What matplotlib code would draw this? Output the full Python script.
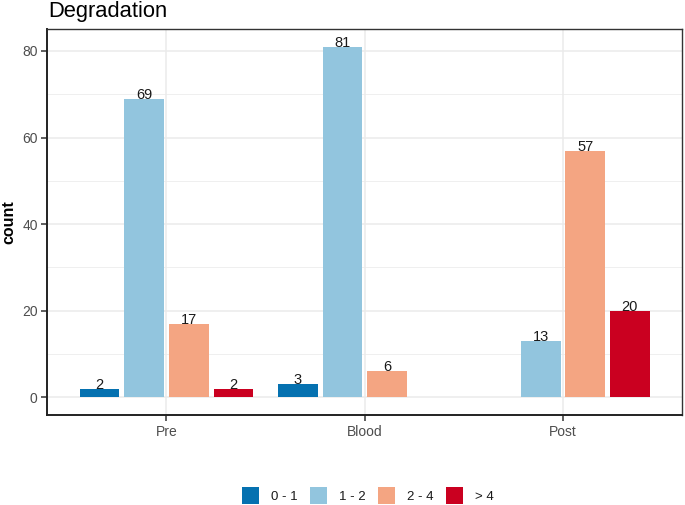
import numpy as np
import matplotlib
matplotlib.use("Agg")
import matplotlib.pyplot as plt
import matplotlib.patches as patches

plt.rcParams['font.family'] = ['Liberation Sans', 'DejaVu Sans']

# data
categories = ["Pre", "Blood", "Post"]
groups = ["0 - 1", "1 - 2", "2 - 4", "> 4"]
colors = ["#0571b0", "#92c5de", "#f4a582", "#ca0020"]
counts = {
    "0 - 1": [2, 3, None],
    "1 - 2": [69, 81, 13],
    "2 - 4": [17, 6, 57],
    "> 4": [2, None, 20],
}

fig = plt.figure(figsize=(6.85, 5.05), dpi=100)
ax = fig.add_axes([0.0693, 0.1782, 0.9956 - 0.0693, 0.9426 - 0.1782])

x = np.arange(1, len(categories) + 1)
slot = 0.9 / len(groups)
bar_w = 0.2
for i, g in enumerate(groups):
    offset = -0.45 + slot * (i + 0.5)
    for j, v in enumerate(counts[g]):
        if v is None:
            continue
        ax.bar(x[j] + offset, v, width=bar_w, color=colors[i], zorder=3)
        ax.text(x[j] + offset, v, str(v), ha='center', va='baseline',
                fontsize=10.5, color='#1a1a1a', zorder=4)

ax.set_xlim(0.4, 3.6)
ax.set_ylim(-4.05, 85.05)
ax.set_xticks(x)
ax.set_xticklabels(categories)
ax.set_yticks([0, 20, 40, 60, 80])
ax.set_yticks([10, 30, 50, 70], minor=True)
ax.grid(which='major', color='#ebebeb', linewidth=1.1, zorder=0)
ax.grid(which='minor', axis='y', color='#ebebeb', linewidth=0.55, zorder=0)
ax.tick_params(axis='both', which='major', labelsize=10, labelcolor='#4d4d4d',
               color='#333333', length=4, width=1.1, pad=3)
ax.tick_params(axis='y', which='minor', length=0)
ax.set_axisbelow(True)

for s in ['top', 'right']:
    ax.spines[s].set_color('#333333')
    ax.spines[s].set_linewidth(1.0)
for s in ['left', 'bottom']:
    ax.spines[s].set_color('#222222')
    ax.spines[s].set_linewidth(1.4)

ax.set_ylabel("count", fontsize=11.5, fontweight='bold', labelpad=4)
fig.text(0.070, 1 - 17 / 505, "Degradation", fontsize=15.8, ha='left', va='baseline')

handles = [patches.Patch(facecolor=c, edgecolor='none') for c in colors]
fig.legend(handles, groups, loc='center', bbox_to_anchor=(0.537, 0.018), ncol=4,
           frameon=False, fontsize=9.5, handlelength=1.29, handleheight=1.6,
           handletextpad=0.85, columnspacing=1.0, labelcolor='#1a1a1a',
           borderpad=0, borderaxespad=0)

fig.savefig("out.png", dpi=100, facecolor='white')
